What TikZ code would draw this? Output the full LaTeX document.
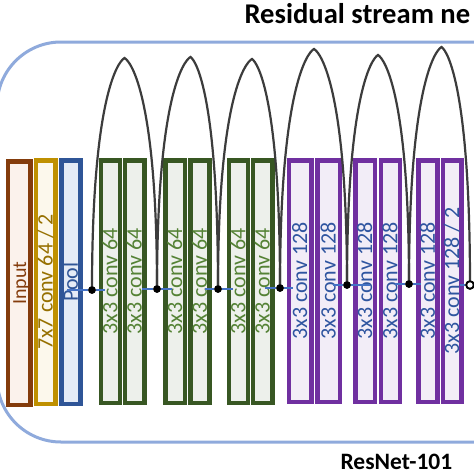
\documentclass[tikz,border=0pt]{standalone}
\usepackage{fontspec}
\setmainfont{Carlito}
\usetikzlibrary{calc}
\definecolor{frameblue}{RGB}{143,170,220}
\definecolor{inpB}{RGB}{132,60,12}
\definecolor{inpF}{RGB}{251,242,236}
\definecolor{c7B}{RGB}{191,144,0}
\definecolor{c7T}{RGB}{150,112,0}
\definecolor{c7F}{RGB}{252,248,236}
\definecolor{poolB}{RGB}{47,85,151}
\definecolor{poolF}{RGB}{229,235,246}
\definecolor{grB}{RGB}{56,87,35}
\definecolor{grT}{RGB}{84,130,53}
\definecolor{grF}{RGB}{237,240,235}
\definecolor{puB}{RGB}{112,48,160}
\definecolor{puT}{RGB}{47,85,160}
\definecolor{puF}{RGB}{242,237,247}
\definecolor{lineblue}{RGB}{68,114,196}
\definecolor{arcgray}{RGB}{60,60,60}
\tikzset{
  box/.style={draw, line width=4.5pt, rotate=90, inner sep=0pt,
    text height=14pt, text depth=0pt, font=\fontsize{22}{26}\selectfont},
  inpbox/.style={box, draw=inpB, fill=inpF, text=inpB},
  c7box/.style={box, draw=c7B, fill=c7F, text=c7T},
  poolbox/.style={box, draw=poolB, fill=poolF, text=poolB},
  grbox/.style={box, draw=grB, fill=grF, text=grT},
  pubox/.style={box, draw=puB, fill=puF, text=puT},
  dot/.style={circle, fill=black, inner sep=0pt, minimum size=7.5pt},
  hdot/.style={circle, draw=black, fill=white, line width=1.8pt, inner sep=0pt, minimum size=7.5pt},
  conn/.style={draw=lineblue, line width=2.4pt},
  skip/.style={draw=arcgray, line width=2.2pt},
  frame/.style={draw=frameblue, line width=3pt, rounded corners=64pt},
}
\begin{document}
\begin{tikzpicture}[x=1pt,y=1pt]
\useasboundingbox (0,0) rectangle (474,-474);
\clip (0,0) rectangle (474,-474);
\fill[white] (0,0) rectangle (474,-474);
\draw[frame] (-3,-42) rectangle (620,-442);
\node[anchor=base west, font=\bfseries\fontsize{28.6}{33}\selectfont] (title) at (241,-23) {Residual stream ne};
\node[anchor=base west, font=\bfseries\fontsize{23.5}{27}\selectfont] (resnet) at (337,-469) {ResNet-101};
% boxes: minimum width = height-4.5, minimum height = width-4.5
\node[inpbox, minimum width=243.5pt, minimum height=22.5pt, font=\fontsize{20}{24}\selectfont] (inp) at (19,-283) {Input};
\node[c7box, minimum width=243.5pt, minimum height=19.5pt] (c7) at (45.5,-282) {7x7 conv 64 / 2};
\node[poolbox, minimum width=243.5pt, minimum height=19pt] (pool) at (70.75,-282) {Pool};
\node[grbox, minimum width=242.5pt, minimum height=19pt] (g1) at (110.25,-281.5) {3x3 conv 64};
\node[grbox, minimum width=242.5pt, minimum height=19.5pt] (g2) at (134.5,-281.5) {3x3 conv 64};
\node[grbox, minimum width=242.5pt, minimum height=19.5pt] (g3) at (175,-281.5) {3x3 conv 64};
\node[grbox, minimum width=242.5pt, minimum height=19pt] (g4) at (199.75,-281.5) {3x3 conv 64};
\node[grbox, minimum width=242.5pt, minimum height=19pt] (g5) at (238.25,-281.5) {3x3 conv 64};
\node[grbox, minimum width=242.5pt, minimum height=19.5pt] (g6) at (262.5,-281.5) {3x3 conv 64};
\node[pubox, minimum width=241.5pt, minimum height=22.5pt] (p1) at (300,-281) {3x3 conv 128};
\node[pubox, minimum width=241.5pt, minimum height=22.5pt] (p2) at (328.5,-281) {3x3 conv 128};
\node[pubox, minimum width=241.5pt, minimum height=19.5pt] (p3) at (365,-281) {3x3 conv 128};
\node[pubox, minimum width=241.5pt, minimum height=19pt] (p4) at (390.25,-281) {3x3 conv 128};
\node[pubox, minimum width=241.5pt, minimum height=19pt] (p5) at (427.75,-281) {3x3 conv 128};
\node[pubox, minimum width=241.5pt, minimum height=18.5pt] (p6) at (452,-281) {3x3 conv 128 / 2};
% junction dots
\node[dot] (d1) at (92,-290) {};
\node[dot] (d2) at (157,-289) {};
\node[dot] (d3) at (218,-289) {};
\node[dot] (d4) at (280,-288) {};
\node[dot] (d5) at (347,-285) {};
\node[dot] (d6) at (409,-284) {};
\node[hdot] (d7) at (470,-285) {};
% stream line ends
\coordinate (l1) at (67,-290);  \coordinate (r1) at (105,-290);
\coordinate (l2) at (142,-289); \coordinate (r2) at (172,-289);
\coordinate (l3) at (205,-289); \coordinate (r3) at (233,-289);
\coordinate (l4) at (265,-288); \coordinate (r4) at (293,-288);
\coordinate (l5) at (333,-285); \coordinate (r5) at (370,-285);
\coordinate (l6) at (395,-284); \coordinate (r6) at (421,-284);
\coordinate (l7) at (460,-285);
\draw[conn] (l1) -- (d1) -- (r1);
\draw[conn] (l2) -- (d2) -- (r2);
\draw[conn] (l3) -- (d3) -- (r3);
\draw[conn] (l4) -- (d4) -- (r4);
\draw[conn] (l5) -- (d5) -- (r5);
\draw[conn] (l6) -- (d6) -- (r6);
\draw[conn] (l7) -- (d7);
% apexes
\coordinate (t1) at (124.5,-58);
\coordinate (t2) at (190.5,-57);
\coordinate (t3) at (252,-59);
\coordinate (t4) at (314,-49);
\coordinate (t5) at (378,-55);
\coordinate (t6) at (441.5,-47);
\foreach \a/\t/\b in {d1/t1/d2, d2/t2/d3, d3/t3/d4, d4/t4/d5, d5/t5/d6, d6/t6/d7}{
  \draw[skip] (\a.center) .. controls ($(\a.center)!0.82!(\a.center|-\t)$) and ($(\t)!0.22!(\t-|\a.center)+(0,-4)$) .. (\t)
    .. controls ($(\t)!0.22!(\t-|\b.center)+(0,-4)$) and ($(\b.center)!0.82!(\b.center|-\t)$) .. (\b.center);
}
\node[dot] at (d1) {};
\node[dot] at (d2) {};
\node[dot] at (d3) {};
\node[dot] at (d4) {};
\node[dot] at (d5) {};
\node[dot] at (d6) {};
\node[hdot] at (d7) {};
\end{tikzpicture}
\end{document}
